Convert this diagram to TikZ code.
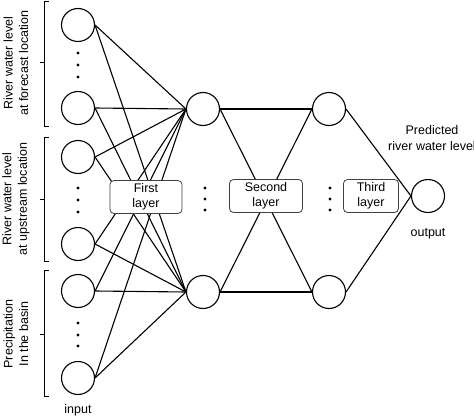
\documentclass[tikz,border=0pt]{standalone}
\usepackage{fontspec}
\setmainfont{Liberation Sans}
\begin{document}
\begin{tikzpicture}[x=1pt, y=-1pt, line width=1.1pt,
		neuron/.style={circle, draw, minimum size=33pt, inner sep=0pt},
		layerbox/.style={draw=black!75, line width=0.8pt, rounded corners=4pt, fill=white,
			minimum width=72pt, minimum height=33pt, align=center, inner sep=1pt,
			font=\fontsize{12.5}{14.5}\selectfont},
		lbl/.style={align=center, font=\fontsize{12.5}{15.5}\selectfont}]
		\useasboundingbox (0,0) rectangle (474,420);
		
		% Draw the neurons
		\foreach \n/\y in {1/25, 2/108, 3/157, 4/244, 5/291, 6/378} {
			\node[neuron] (in\n) at (78,\y) {};
		}
		\node[neuron] (ha) at (203,109) {};
		\node[neuron] (hb) at (203,292) {};
		\node[neuron] (ka) at (329,109) {};
		\node[neuron] (kb) at (329,292) {};
		\node[neuron] (out) at (428,196) {};
		
		% Connect the layers
		\foreach \n in {1,...,6} {
			\draw (in\n.east) -- (ha.west);
			\draw (in\n.east) -- (hb.west);
		}
		\foreach \a in {ha,hb} {
			\draw (\a.east) -- (ka.west);
			\draw (\a.east) -- (kb.west);
		}
		\draw (ka.east) -- (out.west);
		\draw (kb.east) -- (out.west);
		
		% Layer boxes
		\node[layerbox] (first) at (146,197) {First\\layer};
		\node[layerbox, minimum width=73pt] (second) at (266,196) {Second\\layer};
		\node[layerbox, minimum width=55pt] (third) at (371,196) {Third\\layer};
		
		% Dots for omitted neurons
		\foreach \x/\y in {78/53, 78/65, 78/77, 78/188, 78/200, 78/212, 78/323, 78/335, 78/346,
			205/188, 205/199, 205/210, 330/188, 330/199, 330/210} {
			\fill (\x,\y) circle (1.6pt);
		}
		
		% Brackets for the input groups
		\foreach \t/\m/\b in {2/63/126, 137/199/261, 270/334/396} {
			\draw[line width=1pt] (49,\t) -- (44,\t) -- (44,\b) -- (49,\b);
			\draw[line width=1pt] (44,\m) -- (40,\m);
		}
		
		% Add annotations
		\node[lbl, rotate=90] (lab1) at (16,63) {River water level\\at forecast location};
		\node[lbl, rotate=90] (lab2) at (16,199) {River water level\\at upstream location};
		\node[lbl, rotate=90] (lab3) at (16,334) {Precipitation\\In the basin};
		\node[lbl] (inlab) at (78,410) {input};
		\node[lbl] (pred) at (432,138) {Predicted\\river water level};
		\node[lbl] (outlab) at (428,234) {output};
	\end{tikzpicture}
\end{document}
